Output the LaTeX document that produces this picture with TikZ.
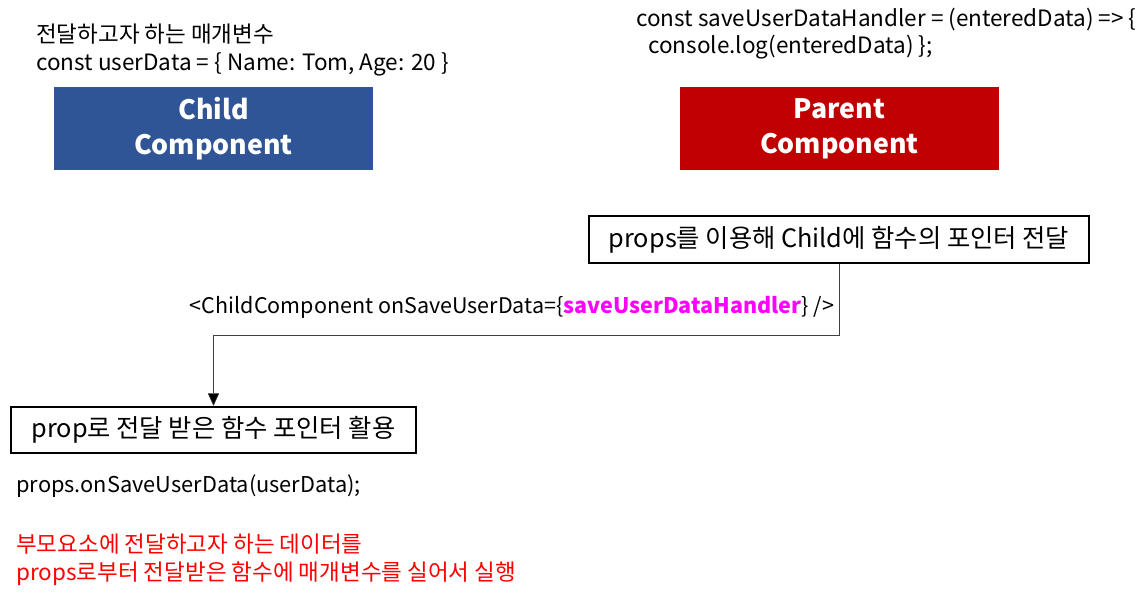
\documentclass[tikz,border=0pt]{standalone}
\usepackage{fontspec}
\setmainfont{Noto Sans CJK KR}
\usetikzlibrary{positioning, arrows.meta}
\definecolor{childblue}{HTML}{2F5597}
\definecolor{parentred}{HTML}{C00000}
\definecolor{hlmagenta}{HTML}{FF00FF}
\tikzset{
  comp/.style={text=white, align=center, minimum width=7.975cm, minimum height=2.075cm,
    font=\fontsize{19}{25}\selectfont\bfseries},
  note/.style={draw, line width=1.5pt, inner sep=0pt, font=\fontsize{18}{20}\selectfont},
  code/.style={anchor=north west, align=left, inner sep=0pt, font=\fontsize{16}{19.3}\selectfont}
}

\begin{document}
\begin{tikzpicture}[x=0.025cm, y=-0.025cm, node distance=3mm and 1cm]
		\useasboundingbox (0,0) rectangle (1147,600);
		\node[code] (param) at (36,24) {전달하고자 하는 매개변수\\const userData = \{ Name: Tom, Age: 20 \}};
		\node[code] (handler) at (636,8) {const saveUserDataHandler = (enteredData) => \{\\\hspace*{0.3cm}console.log(enteredData) \};};
		\node[comp, fill=childblue] (child) at (213.5,128.5) {Child\\Component};
		\node[comp, fill=parentred] (parent) at (839.5,128.5) {Parent\\Component};
		\node[note, minimum width=12.5cm, minimum height=1.175cm] (pass) at (839,239.5) {props를 이용해 Child에 함수의 포인터 전달};
		\node[note, minimum width=10.125cm, minimum height=1.15cm] (recv) at (213.5,430) {prop로 전달 받은 함수 포인터 활용};
		\coordinate (bend) at (213.5,335);
		\draw[draw=black!75, -{Triangle[width=8pt, length=9pt, fill=black]}] (pass.south) |- (bend) -- (recv.north);
		\node[code, anchor=center, font=\fontsize{15.3}{18}\selectfont] (jsx) at (512,307) {<ChildComponent onSaveUserData=\{\textcolor{hlmagenta}{\bfseries saveUserDataHandler}\} />};
		\node[code, anchor=west, font=\fontsize{15.5}{18}\selectfont] (call) at (16,486) {props.onSaveUserData(userData);};
		\node[code, text=red, anchor=north west, font=\fontsize{16}{19.8}\selectfont] (desc) at (16,534) {부모요소에 전달하고자 하는 데이터를\\props로부터 전달받은 함수에 매개변수를 실어서 실행};
		\end{tikzpicture}
\end{document}
